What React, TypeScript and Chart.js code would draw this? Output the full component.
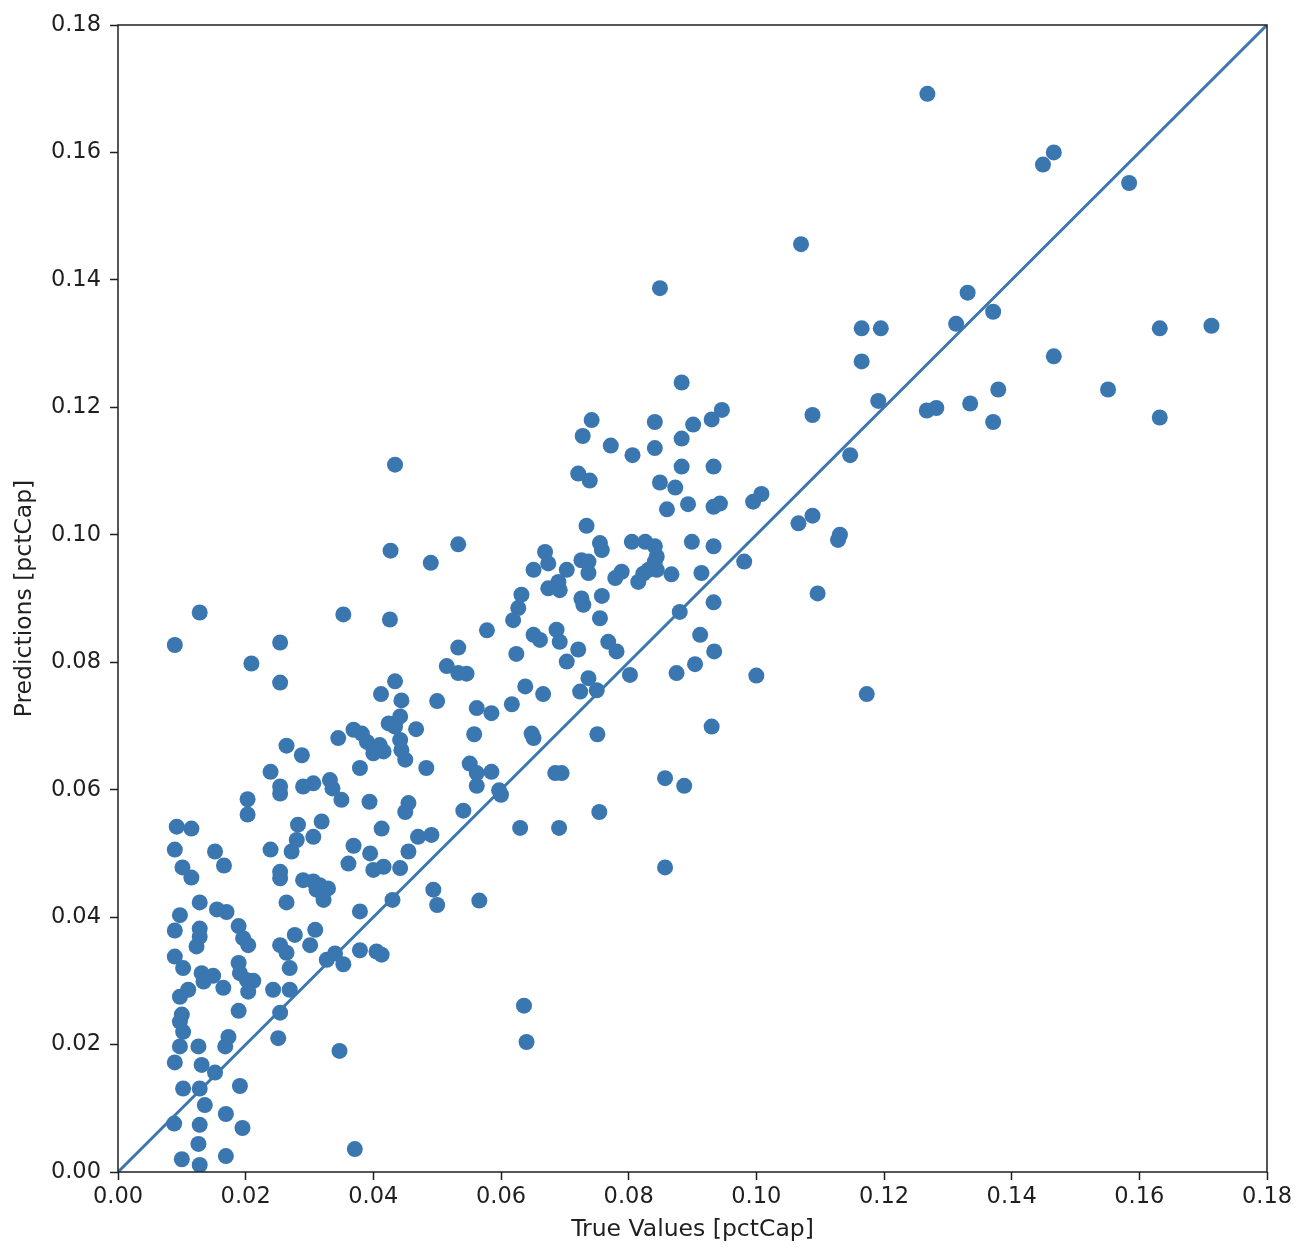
import { useEffect, useRef } from 'react';
import { Chart, ChartConfiguration, Plugin } from 'chart.js/auto';

// true values (x) and predictions (y)
const trueValues = [
  // lower left
  0.0128, 0.0089, 0.0254, 0.0209, 0.0254, 0.0264, 0.0288, 0.0239, 0.0254, 0.0254, 0.029, 0.0306, 0.0203, 0.0203,
  0.0092, 0.0115, 0.0089, 0.0152, 0.0166, 0.0101, 0.0115, 0.0128, 0.0097, 0.0155, 0.017, 0.0189, 0.0089, 0.0128, 0.0128, 0.0123, 0.0196, 0.0204,
  0.0089, 0.0102, 0.0131, 0.0149, 0.0134, 0.0165, 0.0189, 0.0191, 0.0202, 0.0212, 0.0204, 0.0097, 0.011, 0.0189,
  0.01, 0.0097, 0.0102, 0.0097, 0.0126, 0.0173, 0.0168, 0.0089, 0.0131, 0.0152, 0.0102, 0.0128, 0.0191, 0.0136,
  0.0169, 0.0088, 0.0128, 0.0195, 0.0126, 0.01, 0.0169, 0.0128,
  // 0.025 - 0.05, low
  0.0371, 0.0347, 0.0251, 0.0254, 0.0243, 0.0269, 0.0269, 0.0254, 0.0264, 0.0277, 0.0301, 0.0309, 0.0327, 0.034, 0.0353,
  0.0379, 0.0405, 0.0413, 0.0379, 0.0264, 0.029, 0.0306, 0.0311, 0.0316, 0.0324, 0.0322, 0.0329, 0.0254, 0.0254, 0.043,
  0.0361, 0.0369, 0.0395, 0.04, 0.0416, 0.0442, 0.0455, 0.047, 0.0491, 0.0494, 0.05, 0.0239, 0.0272,
  0.0282, 0.028, 0.0306, 0.0319, 0.0413, 0.0566, 0.0636, 0.064,
  // 0.03 - 0.05, middle
  0.0353, 0.0426, 0.0434, 0.0412, 0.0444, 0.05, 0.0442, 0.0424, 0.0434, 0.0467, 0.0345,
  0.0369, 0.0382, 0.039, 0.04, 0.041, 0.0416, 0.04, 0.0442, 0.0444, 0.045, 0.0379, 0.0483,
  0.0332, 0.0336, 0.035, 0.0394, 0.0455, 0.045, 0.0434, 0.0427, 0.049, 0.0533,
  // 0.05 - 0.07
  0.0533, 0.0515, 0.0533, 0.0546, 0.0562, 0.0585, 0.0558, 0.0551, 0.0562, 0.0585, 0.0562, 0.0597, 0.06, 0.0541,
  0.0578, 0.0617, 0.0638, 0.0666, 0.0651, 0.0661, 0.0687, 0.0692, 0.0624, 0.0721, 0.0703, 0.0648, 0.0651, 0.0685, 0.0695, 0.063, 0.0691,
  // 0.06 - 0.12, around the line
  0.0632, 0.0627, 0.0619, 0.0669, 0.0674, 0.0651, 0.0703, 0.069, 0.0674, 0.0692, 0.0726, 0.0737, 0.0737, 0.0734, 0.0755, 0.0758,
  0.0805, 0.0826, 0.0841, 0.0844, 0.0841, 0.0844, 0.0831, 0.0823, 0.0815, 0.0789, 0.0779, 0.0867, 0.0914, 0.0899, 0.0933, 0.0981,
  0.0726, 0.0729, 0.0758, 0.0755, 0.088, 0.0933, 0.0768, 0.0781, 0.0912, 0.0934, 0.0904, 0.0875, 0.0802, 0.1, 0.1173,
  0.0737, 0.0724, 0.075, 0.093, 0.0751, 0.0857, 0.0887, 0.0754, 0.0857, 0.1096,
  // upper middle
  0.0883, 0.0742, 0.0728, 0.0841, 0.0901, 0.093, 0.0946, 0.0772, 0.0806, 0.0841, 0.0883, 0.0721, 0.0739, 0.0883, 0.0933,
  0.0849, 0.0873, 0.086, 0.0893, 0.0933, 0.0943, 0.0995, 0.1008, 0.1147, 0.1066, 0.1088, 0.1131, 0.1128, 0.0849,
  // top right
  0.1268, 0.1466, 0.1449, 0.1584, 0.107, 0.1331, 0.1371, 0.1313, 0.1165, 0.1195, 0.1632, 0.1713,
  0.1165, 0.1466, 0.1551, 0.1379, 0.1191, 0.1335, 0.1267, 0.1282, 0.1632, 0.1371, 0.1088,
];

const predictions = [
  // lower left
  0.0878, 0.0827, 0.0831, 0.0798, 0.0768, 0.0669, 0.0654, 0.0628, 0.0605, 0.0594, 0.0605, 0.061, 0.0585, 0.0561,
  0.0542, 0.0539, 0.0506, 0.0503, 0.0481, 0.0478, 0.0462, 0.0423, 0.0403, 0.0412, 0.0408, 0.0386, 0.0379, 0.0382, 0.0369, 0.0354, 0.0367, 0.0356,
  0.0338, 0.032, 0.0312, 0.0308, 0.0299, 0.0289, 0.0328, 0.0312, 0.0301, 0.03, 0.0283, 0.0275, 0.0286, 0.0253,
  0.0247, 0.0236, 0.022, 0.0197, 0.0197, 0.0212, 0.0197, 0.0172, 0.0168, 0.0156, 0.0131, 0.0131, 0.0135, 0.0105,
  0.0091, 0.0076, 0.0074, 0.0069, 0.0044, 0.002, 0.0025, 0.0011,
  // 0.025 - 0.05, low
  0.0036, 0.019, 0.021, 0.025, 0.0286, 0.0286, 0.032, 0.0356, 0.0344, 0.0372, 0.0356, 0.038, 0.0333, 0.0343, 0.0326,
  0.0348, 0.0346, 0.0341, 0.0409, 0.0423, 0.0458, 0.0456, 0.0443, 0.045, 0.0443, 0.0427, 0.0445, 0.0471, 0.0461, 0.0427,
  0.0484, 0.0512, 0.05, 0.0474, 0.0479, 0.0477, 0.0503, 0.0526, 0.0529, 0.0443, 0.0419, 0.0506, 0.0503,
  0.0545, 0.0521, 0.0526, 0.055, 0.0539, 0.0426, 0.0261, 0.0204,
  // 0.03 - 0.05, middle
  0.0875, 0.0867, 0.077, 0.075, 0.074, 0.0739, 0.0715, 0.0704, 0.0699, 0.0695, 0.0681,
  0.0694, 0.0688, 0.0675, 0.0665, 0.067, 0.066, 0.0657, 0.0678, 0.0662, 0.0647, 0.0634, 0.0634,
  0.0615, 0.0602, 0.0584, 0.0581, 0.0579, 0.0565, 0.111, 0.0975, 0.0956, 0.0985,
  // 0.05 - 0.07
  0.0823, 0.0794, 0.0783, 0.0782, 0.0728, 0.072, 0.0687, 0.0641, 0.0626, 0.0628, 0.0606, 0.0599, 0.0592, 0.0567,
  0.085, 0.0734, 0.0762, 0.075, 0.0843, 0.0835, 0.0851, 0.0832, 0.0813, 0.082, 0.0801, 0.0688, 0.0681, 0.0626, 0.0626, 0.054, 0.054,
  // 0.06 - 0.12, around the line
  0.0906, 0.0885, 0.0866, 0.0973, 0.0955, 0.0945, 0.0945, 0.0926, 0.0916, 0.0913, 0.096, 0.0958, 0.094, 0.1014, 0.0987, 0.0976,
  0.0989, 0.0989, 0.0982, 0.0966, 0.0958, 0.0945, 0.0945, 0.0939, 0.0926, 0.0942, 0.0932, 0.0938, 0.094, 0.0989, 0.0982, 0.0958,
  0.09, 0.089, 0.0904, 0.0869, 0.0879, 0.0894, 0.0832, 0.0817, 0.0843, 0.0817, 0.0797, 0.0783, 0.078, 0.0779, 0.075,
  0.0775, 0.0754, 0.0756, 0.0699, 0.0687, 0.0618, 0.0606, 0.0565, 0.0478, 0.0908,
  // upper middle
  0.1239, 0.118, 0.1155, 0.1177, 0.1173, 0.1181, 0.1196, 0.114, 0.1125, 0.1136, 0.1151, 0.1096, 0.1085, 0.1107, 0.1107,
  0.1082, 0.1074, 0.104, 0.1048, 0.1044, 0.1049, 0.1052, 0.1064, 0.1125, 0.1018, 0.103, 0.1, 0.0992, 0.1387,
  // top right
  0.1692, 0.16, 0.1581, 0.1552, 0.1456, 0.138, 0.135, 0.1331, 0.1324, 0.1324, 0.1324, 0.1328,
  0.1272, 0.128, 0.1228, 0.1228, 0.121, 0.1206, 0.1195, 0.1199, 0.1184, 0.1177, 0.1188,
];

// identity line y = x
const identityLine = [0, 0.18];
const axisTicks = [0, 0.02, 0.04, 0.06, 0.08, 0.1, 0.12, 0.14, 0.16, 0.18];

const BLUE = '#3a77b0';
const INK = '#1f1f1f';
const FONT = "'DejaVu Sans', sans-serif";

// matplotlib-style box around the plot area
const framePlugin: Plugin = {
  id: 'frame',
  afterDraw(chart) {
    const { ctx, chartArea } = chart;
    ctx.save();
    ctx.strokeStyle = INK;
    ctx.lineWidth = 1.5;
    ctx.strokeRect(chartArea.left, chartArea.top, chartArea.right - chartArea.left, chartArea.bottom - chartArea.top);
    ctx.restore();
  },
};

export default function App() {
  const chartRef = useRef<HTMLCanvasElement>(null);
  const chartInstance = useRef<Chart | null>(null);

  useEffect(() => {
    if (!chartRef.current) return;
    if (chartInstance.current) chartInstance.current.destroy();

    const ctx = chartRef.current.getContext('2d');
    if (!ctx) return;

    const points = trueValues
      .map((x, i) => ({ x, y: predictions[i] }))
      .filter(p => p.y !== undefined);

    const axis = (title: string, isX: boolean) => ({
      type: 'linear' as const,
      min: 0,
      max: 0.18,
      afterBuildTicks: (scale: any) => {
        scale.ticks = axisTicks.map(value => ({ value }));
      },
      afterFit: (scale: any) => {
        if (isX) scale.height = 84;
        else scale.width = 118;
      },
      border: { display: false },
      grid: {
        drawOnChartArea: false,
        drawTicks: true,
        tickLength: 8,
        tickColor: INK,
        tickWidth: 1.5,
      },
      ticks: {
        color: INK,
        padding: isX ? 4 : 9,
        font: { family: FONT, size: 22.5 },
        callback: (v: any) => Number(v).toFixed(2),
        maxRotation: 0,
        autoSkip: false,
      },
      title: {
        display: true,
        text: title,
        color: INK,
        font: { family: FONT, size: 23.5 },
        padding: isX ? { top: 0, bottom: 12 } : { top: 11, bottom: 0 },
      },
    });

    const config: ChartConfiguration = {
      type: 'scatter',
      data: {
        datasets: [
          {
            type: 'line',
            data: identityLine.map(v => ({ x: v, y: v })),
            borderColor: BLUE,
            borderWidth: 3,
            pointRadius: 0,
            fill: false,
          } as any,
          {
            data: points,
            backgroundColor: BLUE,
            borderWidth: 0,
            pointRadius: 8,
            pointHoverRadius: 8,
          },
        ],
      },
      options: {
        responsive: true,
        maintainAspectRatio: false,
        animation: false,
        layout: { padding: { top: 25, right: 31, left: 0, bottom: 0 } },
        plugins: {
          legend: { display: false },
          tooltip: { enabled: false },
        },
        scales: {
          x: axis('True Values [pctCap]', true),
          y: axis('Predictions [pctCap]', false),
        },
      },
      plugins: [framePlugin],
    };

    chartInstance.current = new Chart(ctx, config);

    return () => {
      if (chartInstance.current) {
        chartInstance.current.destroy();
        chartInstance.current = null;
      }
    };
  }, []);

  return (
    <div style={{ position: 'fixed', left: 0, top: 0, width: 1298, height: 1256, background: '#fff' }}>
      <canvas ref={chartRef} />
    </div>
  );
}
